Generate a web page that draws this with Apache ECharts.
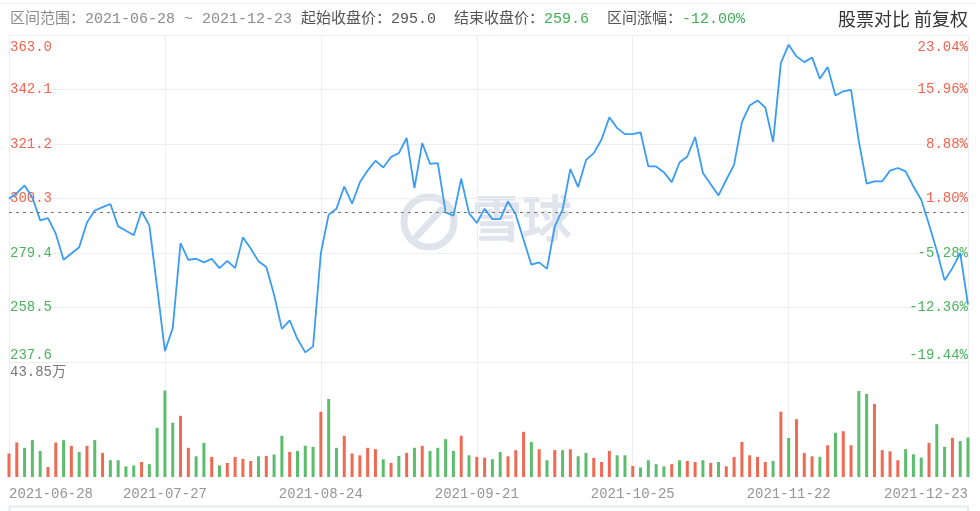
<!DOCTYPE html>
<html><head><meta charset="utf-8">
<script src="https://cdn.jsdelivr.net/npm/echarts@6/dist/echarts.min.js"></script>
<style>html,body{margin:0;padding:0;background:#fff}#c{width:980px;height:511px}</style>
</head><body><div id="c"></div>
<script>
// ---- data ----
const tradingDays = {
  '2021-06': [28,29,30],
  '2021-07': [2,5,6,7,8,9,12,13,14,15,16,19,20,21,22,23,26,27,28,29,30],
  '2021-08': [2,3,4,5,6,9,10,11,12,13,16,17,18,19,20,23,24,25,26,27,30,31],
  '2021-09': [1,2,3,6,7,8,9,10,13,14,15,16,17,20,21,23,24,27,28,29,30],
  '2021-10': [4,5,6,7,8,11,12,15,18,19,20,21,22,25,26,27,28,29],
  '2021-11': [1,2,3,4,5,8,9,10,11,12,15,16,17,18,19,22,23,24,25,26,29,30],
  '2021-12': [1,2,3,6,7,8,9,10,13,14,15,16,17,20,21,22,23]
};
const closePrices = [
  300.2,302.4,305.3,300.7,291.9,292.8,286.8,276.8,279.2,281.6,
  291.1,295.7,297.0,298.2,289.6,287.9,286.2,295.4,290.0,266.1,
  241.8,250.6,283.2,276.8,277.2,275.8,277.2,273.6,276.4,273.6,
  285.4,281.1,276.2,274.0,263.4,250.3,253.6,246.4,241.3,243.6,
  279.4,294.1,296.4,304.9,298.3,306.5,311.0,314.8,312.2,316.2,
  317.7,323.5,304.3,321.6,313.6,313.9,295.0,293.7,307.9,294.7,
  290.9,296.4,292.4,292.4,299.2,294.1,284.5,274.9,275.8,273.3,
  289.6,296.0,311.6,304.7,315.0,317.7,322.9,331.4,327.3,325.0,
  325.0,325.7,312.6,312.6,310.3,306.6,314.1,316.4,323.9,310.1,
  305.8,301.5,307.5,313.3,329.6,336.0,337.9,335.2,322.0,352.3,
  359.3,354.8,352.6,354.4,346.2,350.7,339.8,341.4,342.0,322.2,
  306.0,306.9,306.9,311.0,312.0,310.7,304.9,299.8,290.3,280.3,
  268.9,273.6,279.4,259.6
];
// volume in 万
const volumes = [
  11.9,17.5,14.8,18.7,13.2,5.1,17.5,18.7,15.8,12.7,
  15.8,18.7,12.2,8.5,8.5,5.4,5.9,7.6,6.5,24.9,
  43.85,27.5,31.0,14.8,10.5,17.3,10.2,5.9,7.1,10.2,
  9.2,8.1,10.5,10.7,11.4,20.9,12.7,13.2,15.8,15.3,
  33.1,39.5,14.8,20.9,11.9,11.0,14.8,14.1,9.0,7.1,
  10.7,12.2,14.8,15.8,13.2,14.8,19.2,13.2,20.9,11.0,
  10.2,9.8,9.0,12.7,10.5,13.6,22.9,17.8,14.1,8.5,
  13.6,13.6,14.1,10.5,12.2,9.7,7.6,13.2,11.0,11.0,
  5.6,4.8,8.5,6.5,5.4,6.5,8.5,8.1,7.6,8.5,
  7.1,7.6,5.4,10.2,17.8,11.0,10.2,7.6,8.1,33.1,
  19.8,29.3,12.2,10.5,10.2,16.1,22.4,23.2,16.1,43.6,
  42.1,37.0,13.6,13.0,8.5,14.1,11.5,9.8,17.3,26.8,
  15.3,19.8,18.2,20.0
];
// 1 = up (red), 0 = down (green)
const volumeUp = [
  1,1,0,0,0,1,1,0,1,0,
  1,0,1,0,0,0,0,1,0,0,
  0,0,1,1,0,0,1,0,1,1,
  1,1,0,1,0,0,1,0,0,0,
  1,0,0,1,1,1,1,1,0,1,
  0,1,0,1,0,0,0,0,1,0,
  1,1,0,0,1,1,1,0,1,0,
  1,0,1,0,0,1,1,1,0,0,
  1,0,0,0,0,1,0,1,1,0,
  1,0,1,1,1,1,1,1,0,1,
  0,1,1,1,0,1,0,1,1,0,
  0,1,1,1,1,0,0,0,1,0,
  0,1,0,0
];
const priceTicks = [237.6, 258.5, 279.4, 300.3, 321.2, 342.1, 363.0];
const pctTicks = ['-19.44%', '-12.36%', '-5.28%', '1.80%', '8.88%', '15.96%', '23.04%'];
const basePrice = 295.0;
const labelStep = 20;

// ---- build ----
const dates = [];
Object.keys(tradingDays).forEach(m => tradingDays[m].forEach(d => dates.push(m + '-' + String(d).padStart(2, '0'))));
const last = dates.length - 1;
const showIdx = i => (i % labelStep === 0 && last - i >= labelStep) || i === last;

const RED = '#f0654f', GREEN = '#4cb45f';
const BAR_RED = '#ef6a52', BAR_GREEN = '#5cbd6c';
const MONO = '"Liberation Mono", "Noto Sans CJK SC", monospace';
const GRIDC = '#eceef2';

const pMin = priceTicks[0], pMax = priceTicks[priceTicks.length - 1];
const pInt = +(priceTicks[1] - priceTicks[0]).toFixed(1);
const tickIdx = v => Math.max(0, Math.min(priceTicks.length - 1, Math.round((v - pMin) / pInt)));

const endPrice = closePrices[last];
const chg = ((endPrice / basePrice - 1) * 100).toFixed(2) + '%';
const header = '{g|区间范围：' + dates[0] + ' ~ ' + dates[last] + '} {d|起始收盘价：' + basePrice.toFixed(1) +
  '}  {d|结束收盘价：}{v|' + endPrice.toFixed(1) + '}  {d|区间涨幅：}{v|' + chg + '}';
const maxVol = Math.max.apply(null, volumes);

const chart = echarts.init(document.getElementById('c'));
chart.setOption({
  animation: false,
  backgroundColor: '#fff',
  title: [
    { left: 10, top: 12, padding: 0, text: header,
      textStyle: { fontFamily: MONO, fontSize: 15, fontWeight: 'normal', color: '#555',
        rich: {
          g: { fontFamily: MONO, fontSize: 15, color: '#8c8c8c' },
          d: { fontFamily: MONO, fontSize: 15, color: '#555' },
          v: { fontFamily: MONO, fontSize: 15, color: '#3fae56' }
        } } },
    { right: 12, top: 10, padding: 0, text: '股票对比 前复权',
      textStyle: { fontFamily: '"Noto Sans CJK SC"', fontSize: 18, fontWeight: 'normal', color: '#333' } },
    { left: 10, top: 365, padding: 0, text: maxVol.toFixed(2) + '万',
      textStyle: { fontFamily: MONO, fontSize: 14, fontWeight: 'normal', color: '#777' } }
  ],
  graphic: [
    { type: 'line', shape: { x1: 0, y1: 3.5, x2: 975, y2: 3.5 }, style: { stroke: '#eef0f3', lineWidth: 1 }, silent: true },
    { type: 'rect', shape: { x: 9.5, y: 506.5, width: 958.5, height: 20 }, style: { fill: 'none', stroke: '#e5e9f0', lineWidth: 2 }, silent: true },
    { type: 'circle', shape: { cx: 429, cy: 222, r: 25 }, style: { fill: 'none', stroke: '#dfe4ec', lineWidth: 7 }, silent: true, z: 0 },
    { type: 'polyline', shape: { points: [[417, 236], [441, 210]] }, style: { stroke: '#dfe4ec', lineWidth: 7, lineCap: 'round' }, silent: true, z: 0 },
    { type: 'text', left: 472, top: 193, silent: true, z: 0,
      style: { text: '雪球', fontFamily: '"Noto Sans CJK SC"', fontSize: 50, fontWeight: 'bold', fill: '#e0e5ed' } }
  ],
  grid: [
    { left: 9, right: 12, top: 35, height: 327 },
    { left: 9, right: 12, top: 362, height: 115 }
  ],
  xAxis: [
    { gridIndex: 0, type: 'category', boundaryGap: false, data: dates,
      axisLine: { show: false }, axisTick: { show: false }, axisLabel: { show: false },
      splitLine: { show: true, interval: showIdx, lineStyle: { color: GRIDC, width: 1 } } },
    { gridIndex: 1, type: 'category', boundaryGap: false, data: dates,
      axisLine: { show: false }, axisTick: { show: false },
      axisLabel: { show: true, interval: showIdx, color: '#959595', fontFamily: MONO, fontSize: 14, margin: 10,
        alignMinLabel: 'left', alignMaxLabel: 'right' },
      splitLine: { show: true, interval: showIdx, lineStyle: { color: GRIDC, width: 1 } } }
  ],
  yAxis: [
    { gridIndex: 0, type: 'value', min: pMin, max: pMax, interval: pInt, position: 'left',
      axisLine: { show: false }, axisTick: { show: false },
      axisLabel: { inside: true, margin: 1, fontFamily: MONO, fontSize: 14, padding: [5, 0, 0, 0],
        showMinLabel: true, showMaxLabel: true,
        formatter: v => priceTicks[tickIdx(v)].toFixed(1),
        color: v => (v >= basePrice ? RED : GREEN),
        verticalAlignMinLabel: 'bottom', verticalAlignMaxLabel: 'top' },
      splitLine: { show: true, lineStyle: { color: GRIDC, width: 1 } } },
    { gridIndex: 0, type: 'value', min: pMin, max: pMax, interval: pInt, position: 'right',
      axisLine: { show: false }, axisTick: { show: false },
      axisLabel: { inside: true, margin: 0, fontFamily: MONO, fontSize: 14, padding: [5, 0, 0, 0],
        showMinLabel: true, showMaxLabel: true,
        formatter: v => pctTicks[tickIdx(v)],
        color: v => (v >= basePrice ? RED : GREEN),
        verticalAlignMinLabel: 'bottom', verticalAlignMaxLabel: 'top' },
      splitLine: { show: false } },
    { gridIndex: 1, type: 'value', min: 0, max: 58.3, show: false, splitLine: { show: false } }
  ],
  series: [
    { type: 'line', xAxisIndex: 0, yAxisIndex: 0, data: closePrices, symbol: 'none', z: 3,
      lineStyle: { color: '#3a9cf6', width: 1.8 },
      markLine: { silent: true, symbol: 'none', label: { show: false },
        lineStyle: { type: [3, 4], color: '#777', width: 1 },
        data: [{ yAxis: basePrice }] } },
    { type: 'bar', xAxisIndex: 1, yAxisIndex: 2, barWidth: 3,
      data: volumes.map((v, i) => ({ value: v, itemStyle: { color: volumeUp[i] ? BAR_RED : BAR_GREEN } })) }
  ]
});
</script></body></html>
